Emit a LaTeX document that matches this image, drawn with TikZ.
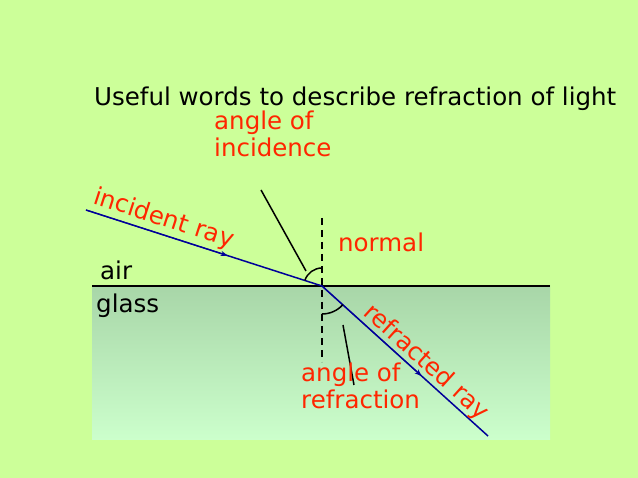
\documentclass[tikz,border=0pt]{standalone}
\usepackage{fontspec}
\setmainfont{DejaVu Sans}
\usetikzlibrary{arrows.meta,calc}
\begin{document}
\begin{tikzpicture}[x=1pt,y=-1pt,
  lab/.style={text=orange!30!red,font=\fontsize{24.5}{27}\selectfont,inner sep=0pt},
  blk/.style={text=black,font=\fontsize{24.5}{27}\selectfont,inner sep=0pt},
  ray/.style={draw=blue!60!black,line width=1.5pt},
  ptr/.style={draw=black,line width=1.5pt}]
\definecolor{bg}{HTML}{CCFF99}
\fill[bg] (0,0) rectangle (638,478);
\useasboundingbox (0,0) rectangle (638,478);
\shade[top color={rgb,255:red,168;green,214;blue,168},bottom color={rgb,255:red,204;green,255;blue,204}] (92,286) rectangle (550,440);
\coordinate (O) at (322,286);
\coordinate (A) at (86,210);
\coordinate (B) at (488,436);
\coordinate (L) at (92,286);
\coordinate (R) at (550,286);
\coordinate (N1) at (322,218);
\coordinate (N2) at (322,362);
\draw[line width=1.8pt] (L) -- (R);
\draw[line width=1.8pt,dash pattern=on 7pt off 5pt] (N1) -- (N2);
\draw[ray] (A) -- (O) -- (B);
\draw[blue!60!black,line width=1pt,-{Stealth[length=7pt]}] (A) -- ($(A)!0.6!(O)$);
\draw[blue!60!black,line width=1pt,-{Stealth[length=7pt]}] (O) -- ($(O)!0.6!(B)$);
\draw[ptr] ([shift={(0,-18)}]O) arc[start angle=-90,end angle=-162,radius=18];
\draw[ptr] ([shift={(0,28)}]O) arc[start angle=90,end angle=42,radius=28];
\coordinate (P1) at (261,190); \coordinate (P2) at (306,271);
\coordinate (Q1) at (354,385); \coordinate (Q2) at (343,325);
\draw[ptr] (P1) -- (P2);
\draw[ptr] (Q1) -- (Q2);
\node[blk,anchor=base west] (title) at (94,106) {Useful words to describe refraction of light};
\node[lab,anchor=base west,align=left] (ai) at (214,157) {angle of\\incidence};
\node[lab,anchor=base west] (nm) at (338,252) {normal};
\node[blk,anchor=base west] (air) at (100,280) {air};
\node[blk,anchor=base west] (gl) at (96,313) {glass};
\node[lab,anchor=base west,align=left] (ar) at (301,409) {angle of\\refraction};
\node[lab,anchor=base west,rotate=-18] (ir) at (92,203) {incident ray};
\node[lab,anchor=base west,rotate=-42] (rr) at (362,314) {refracted ray};
\end{tikzpicture}
\end{document}
